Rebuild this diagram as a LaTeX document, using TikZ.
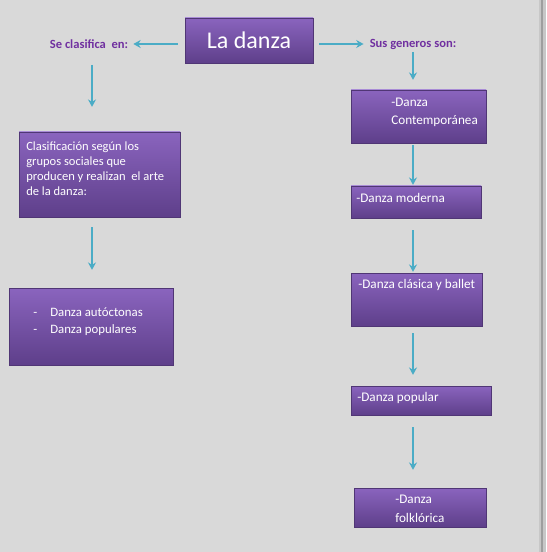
\documentclass[tikz,border=0pt]{standalone}
\usepackage{fontspec}
\setmainfont{Carlito}
\usetikzlibrary{arrows.meta,shadows}
\definecolor{fondo}{HTML}{D9D9D9}
\definecolor{moradoA}{HTML}{8A64BE}
\definecolor{moradoB}{HTML}{5E3F8A}
\definecolor{moradoL}{HTML}{A98CD6}
\definecolor{moradoT}{HTML}{7030A0}
\definecolor{turquesa}{HTML}{4BACC6}
\begin{document}
\begin{tikzpicture}[x=0.75pt,y=-0.75pt,
  caja/.style={rectangle, inner sep=0pt, top color=moradoA, bottom color=moradoB,
    draw=moradoB!85!black, line width=0.3pt,
    drop shadow={shadow xshift=0.6pt, shadow yshift=-0.9pt, opacity=0.35},
    path picture={\draw[moradoL, line width=1.2pt] (path picture bounding box.north west) -- (path picture bounding box.north east);}},
  txt/.style={inner sep=0pt, text=white, align=left, anchor=west, font=\fontsize{9.9}{13.9}\selectfont},
  etiq/.style={inner sep=0pt, text=moradoT, font=\fontsize{9.4}{11}\selectfont\bfseries},
  flecha/.style={draw=turquesa, line width=1.6pt, -{Stealth[length=5.5pt,width=6pt,inset=1.8pt]}}]
                \path [use as bounding box, fill=fondo] (0,0) rectangle (546,552);
                \fill [black!22] (539,0) rectangle (546,552);
                \fill [black!38] (541,0) rectangle (543,552);
                % titulo y etiquetas
                \node [caja, minimum width=96pt, minimum height=33.75pt, text=white, font=\fontsize{18}{20}\selectfont] (danza) at (249,40.5) {La danza};
                \node [etiq] (seclas) at (89,44) {Se clasifica\ \ en:};
                \node [etiq] (susgen) at (413,44) {Sus generos son:};
                \coordinate (colL) at (92,0);
                \coordinate (colR) at (413,0);
                % columna izquierda
                \node [caja, minimum width=120.75pt, minimum height=63.75pt] (clasif) at (99.5,174.5) {};
                \node [txt, font=\fontsize{9.4}{11.25}\selectfont] (clasif-t) at (26,168.5) {Clasificación según los\\grupos sociales que\\producen y realizan\ \ el arte\\de la danza:};
                \node [caja, minimum width=123pt, minimum height=57.75pt] (autoc) at (91,326.5) {};
                \node [txt, font=\fontsize{9.6}{13}\selectfont] (autoc-t) at (33,321.5) {\makebox[12.75pt][l]{-}Danza autóctonas\\\makebox[12.75pt][l]{-}Danza populares};
                % columna derecha
                \node [caja, minimum width=101.25pt, minimum height=39.75pt] (contemp) at (418.5,116.5) {};
                \node [txt] (contemp-t) at (391,112.5) {-Danza\\Contemporánea};
                \node [caja, minimum width=97.5pt, minimum height=24pt] (moderna) at (416,202) {};
                \node [txt] (moderna-t) at (356,198) {-Danza moderna};
                \node [caja, minimum width=98.25pt, minimum height=39.75pt] (clasica) at (416.5,299.5) {};
                \node [txt] (clasica-t) at (358,285) {-Danza clásica y ballet};
                \node [caja, minimum width=105pt, minimum height=21.75pt] (popular) at (421,400.5) {};
                \node [txt] (popular-t) at (357,398) {-Danza popular};
                \node [caja, minimum width=99pt, minimum height=29.25pt] (folk) at (420,507.5) {};
                \node [txt] (folk-t) at (395,509) {-Danza\\folklórica};
                % flechas
                \draw [flecha, shorten <=5.25pt, shorten >=3.75pt] (seclas.east -| danza.west) -- (seclas.east);
                \draw [flecha, shorten <=4.5pt, shorten >=4.5pt] (susgen.west -| danza.east) -- (susgen.west);
                \draw [flecha, shorten <=15.75pt, shorten >=18.75pt] (seclas -| colL) -- (clasif.north -| colL);
                \draw [flecha, shorten <=7.5pt, shorten >=13.5pt] (clasif.south -| colL) -- (autoc.north -| colL);
                \draw [flecha, shorten <=6pt, shorten >=7.5pt] (susgen -| colR) -- (contemp.north -| colR);
                \draw [flecha, shorten <=1.5pt, shorten >=0.75pt] (contemp.south -| colR) -- (moderna.north -| colR);
                \draw [flecha, shorten <=9pt, shorten >=0.75pt] (moderna.south -| colR) -- (clasica.north -| colR);
                \draw [flecha, shorten <=5.25pt, shorten >=8.25pt] (clasica.south -| colR) -- (popular.north -| colR);
                \draw [flecha, shorten <=9pt, shorten >=13.5pt] (popular.south -| colR) -- (folk.north -| colR);
            \end{tikzpicture}
\end{document}
